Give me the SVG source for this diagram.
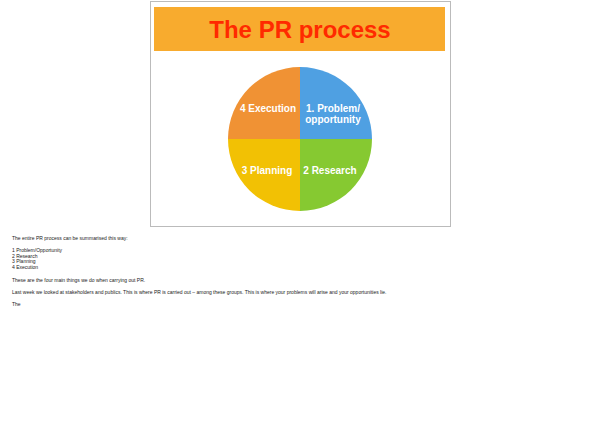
<svg xmlns="http://www.w3.org/2000/svg" width="600" height="447" viewBox="0 0 600 447">
<style>
.q{font-family:"Liberation Sans",Arial,sans-serif;font-weight:bold;font-size:10px;fill:#fff;text-anchor:middle}
.n{font-family:"Liberation Sans",Arial,sans-serif;font-size:5px;fill:#222}
</style>
<rect width="600" height="447" fill="#fff"/>
<rect x="150.5" y="1.5" width="300" height="225" fill="#fff" stroke="#bbb"/>
<rect x="154" y="7" width="291" height="44" fill="#f8ab2e"/>
<text x="300" y="38" font-family="Liberation Sans,Arial,sans-serif" font-weight="bold" font-size="24" fill="#ff2a00" text-anchor="middle">The PR process</text>
<g id="execution"><path d="M300 139 L228 139 A72 72 0 0 1 300 67 Z" fill="#f09234"/><text class="q" x="268" y="112">4 Execution</text></g>
<g id="problem"><path d="M300 139 L300 67 A72 72 0 0 1 372 139 Z" fill="#4fa0e2"/><text class="q" x="333" y="112">1. Problem/</text><text class="q" x="333" y="123">opportunity</text></g>
<g id="research"><path d="M300 139 L372 139 A72 72 0 0 1 300 211 Z" fill="#86c931"/><text class="q" x="330" y="174">2 Research</text></g>
<g id="planning"><path d="M300 139 L300 211 A72 72 0 0 1 228 139 Z" fill="#f2c104"/><text class="q" x="267" y="174">3 Planning</text></g>
<g id="connectors"/>
<text class="n" x="12" y="240">The entire PR process can be summarised this way:</text>
<text class="n" x="12" y="252">1 Problem/Opportunity</text>
<text class="n" x="12" y="257.5">2 Research</text>
<text class="n" x="12" y="263">3 Planning</text>
<text class="n" x="12" y="268.5">4 Execution</text>
<text class="n" x="12" y="282">These are the four main things we do when carrying out PR.</text>
<text class="n" x="12" y="294">Last week we looked at stakeholders and publics. This is where PR is carried out – among these groups. This is where your problems will arise and your opportunities lie.</text>
<text class="n" x="12" y="306">The</text>
</svg>
